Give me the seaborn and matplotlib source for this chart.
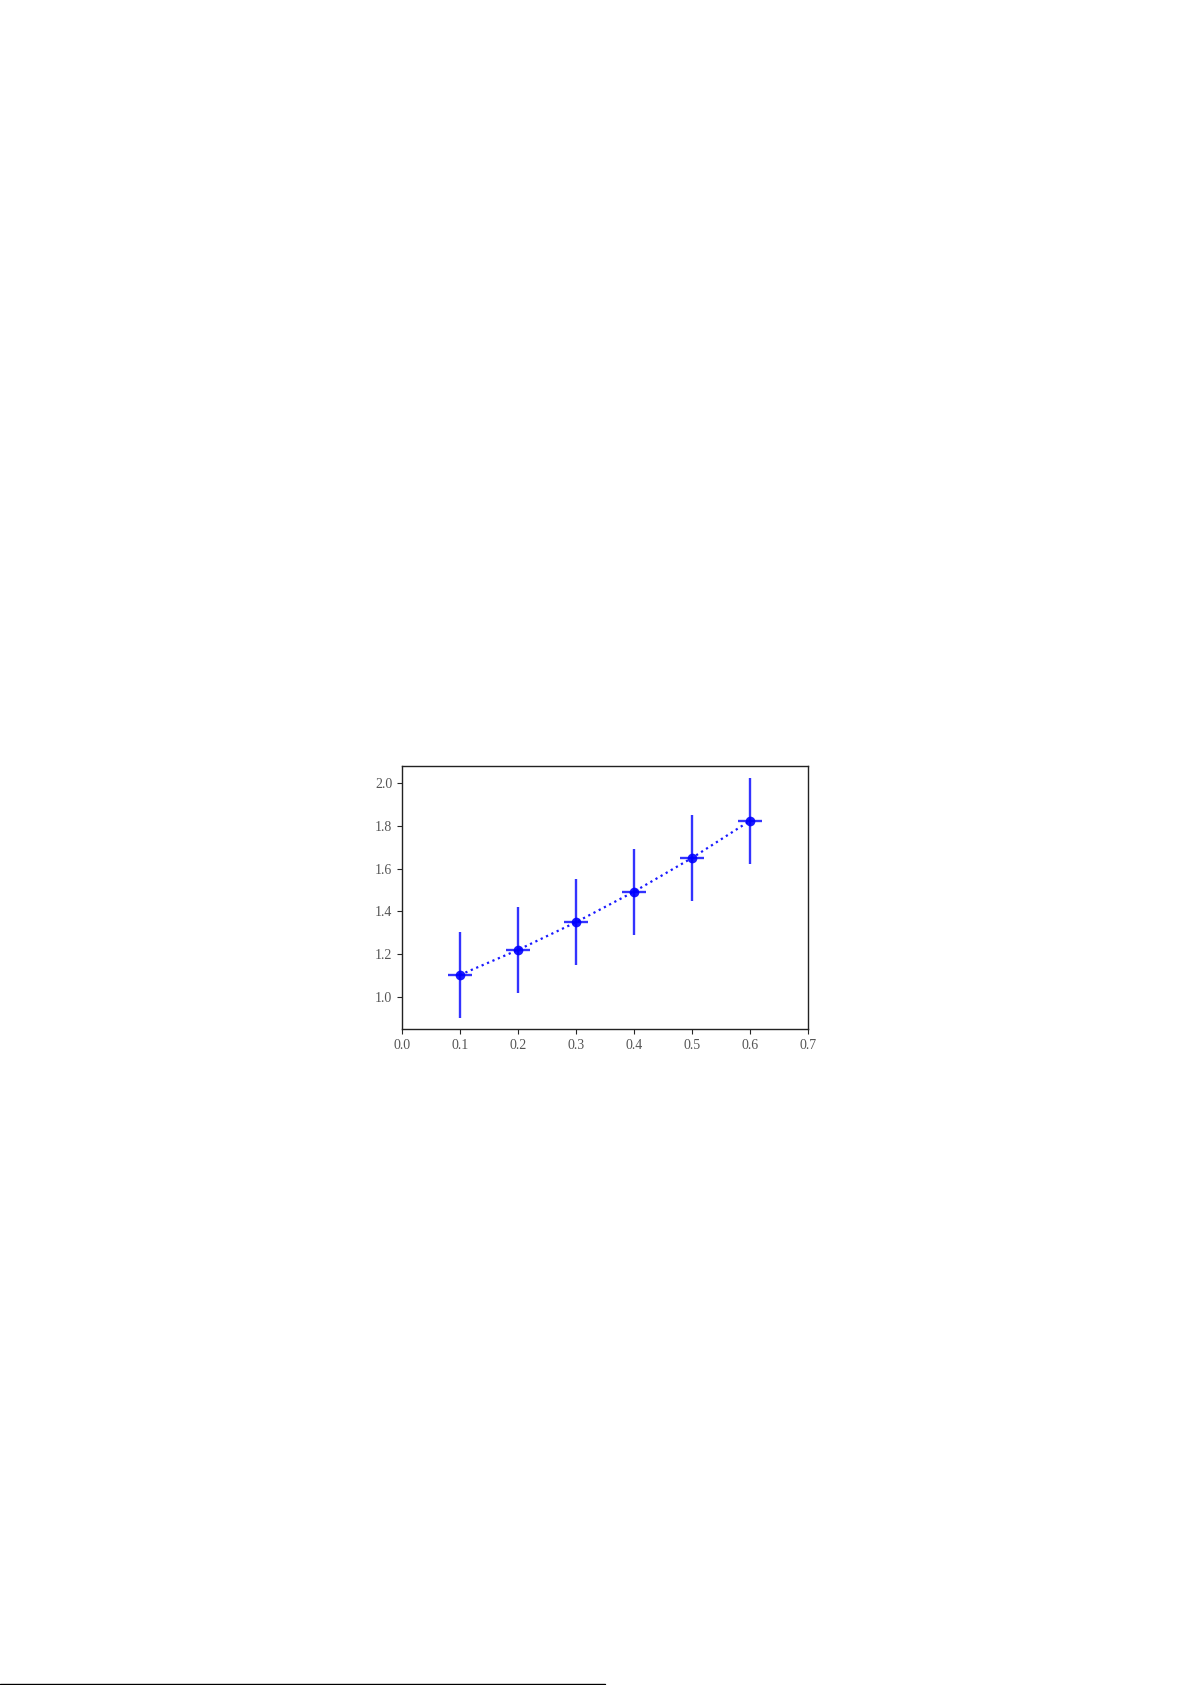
import matplotlib
matplotlib.use('Agg')
import matplotlib.pyplot as plt
from matplotlib.lines import Line2D
import seaborn as sns
import pandas as pd

# values
x_values = [0.1, 0.2, 0.3, 0.4, 0.5, 0.6]
y_values = [1.105, 1.221, 1.350, 1.492, 1.649, 1.822]
x_error = [0.02, 0.02, 0.02, 0.02, 0.02, 0.02]
y_error = [0.2, 0.2, 0.2, 0.2, 0.2, 0.2]
x_ticks = [0.0, 0.1, 0.2, 0.3, 0.4, 0.5, 0.6, 0.7]
y_ticks = [1.0, 1.2, 1.4, 1.6, 1.8, 2.0]

data = pd.DataFrame({'x': x_values, 'y': y_values})


def errorbar_plot():
    """
        Dotted line with round markers and x/y error bars, placed on an A4-like page.
    """

    sns.set_style('ticks')
    plt.rcParams['font.family'] = ['Liberation Serif', 'DejaVu Serif']

    fig = plt.figure(figsize=(11.91, 16.85), dpi=100)
    ax = fig.add_axes([0.3375, 0.3893, 0.3409, 0.1561])

    ax.errorbar(x_values, y_values, xerr=x_error, yerr=y_error, fmt='none',
                ecolor='blue', elinewidth=1.7, alpha=0.8, zorder=2)
    sns.lineplot(data=data, x='x', y='y', ax=ax, color='blue', linestyle=':',
                 linewidth=1.6, alpha=0.9, marker='o', markersize=7,
                 markeredgewidth=0, zorder=3)

    ax.set_xlim(0.0, 0.7)
    ax.set_ylim(0.853, 2.077)
    ax.set_xticks(x_ticks)
    ax.set_yticks(y_ticks)
    ax.set_xticklabels([f'{t:.1f}' for t in x_ticks])
    ax.set_yticklabels([f'{t:.1f}' for t in y_ticks])
    ax.set_xlabel('')
    ax.set_ylabel('')
    ax.tick_params(labelsize=10, labelcolor='#555555', length=3.5, width=0.8,
                   direction='out')
    for spine in ax.spines.values():
        spine.set_visible(True)
        spine.set_linewidth(1.0)
        spine.set_color('#222222')

    # thin rule at the foot of the page
    fig.add_artist(Line2D([0.0, 605 / 1191], [1 - 1683.5 / 1685] * 2,
                          transform=fig.transFigure, color='black', linewidth=1.0))

    fig.savefig('out.png', dpi=100)


def main():
    errorbar_plot()


if __name__ == '__main__':
    main()
